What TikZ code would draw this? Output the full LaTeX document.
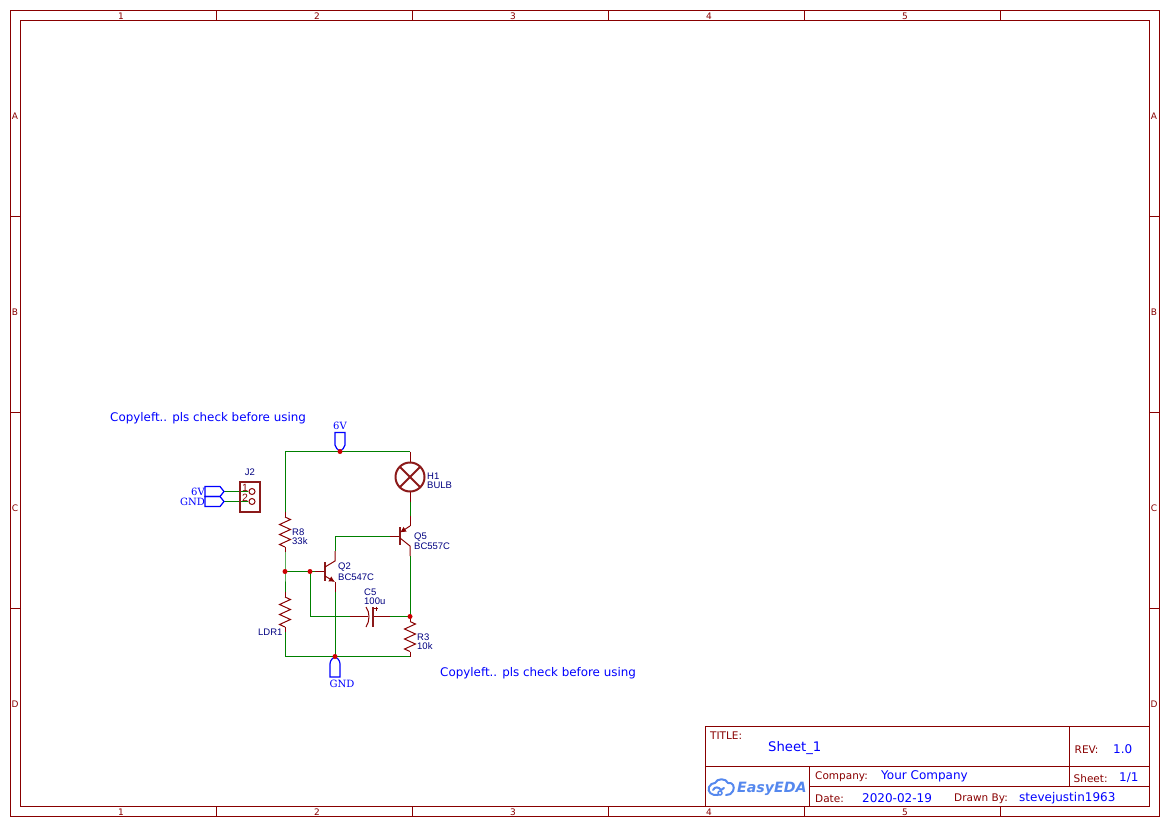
\documentclass[tikz,border=0pt]{standalone}
\usepackage{fontspec}
\setmainfont{DejaVu Sans}
\newfontfamily\netfont{DejaVu Serif}
\newfontfamily\partfont{Liberation Sans}
\usetikzlibrary{arrows.meta}
\definecolor{frameC}{HTML}{880000}
\definecolor{leadC}{HTML}{880000}
\definecolor{symC}{HTML}{8B1A1A}
\definecolor{wireC}{HTML}{008000}
\definecolor{partC}{HTML}{000080}
\definecolor{blueC}{HTML}{0000FF}
\definecolor{junC}{HTML}{CC0000}
\definecolor{logoC}{HTML}{5588EE}
\newcommand{\zigres}[2]{\draw[lead] (#1,#2) -- ++(5.5,2.5) -- ++(-11,5) -- ++(11,5) -- ++(-11,5) -- ++(11,5) -- ++(-11,5) -- ++(5.5,2.5);}
\tikzset{
  frameL/.style={draw=frameC,line width=1pt},
  wire/.style={draw=wireC,line width=1pt},
  lead/.style={draw=leadC,line width=1pt},
  sym/.style={draw=symC,line width=2pt},
  flag/.style={draw=blueC,line width=1.2pt},
  jun/.style={fill=junC,draw=none,circle,minimum size=5pt,inner sep=0pt},
  frameT/.style={text=frameC,inner sep=0pt,font=\fontsize{9}{11}\selectfont},
  titleT/.style={text=frameC,inner sep=0pt,anchor=west,font=\fontsize{10.5}{12}\selectfont},
  valT/.style={text=blueC,inner sep=0pt,anchor=west,font=\fontsize{12}{14}\selectfont},
  noteT/.style={text=blueC,inner sep=0pt,anchor=west,font=\fontsize{11.9}{14}\selectfont},
  netT/.style={text=blueC,inner sep=0pt,font=\netfont\fontsize{10}{12}\selectfont},
  partT/.style={text=partC,inner sep=0pt,font=\partfont\fontsize{9.5}{11}\selectfont},
  partL/.style={partT,anchor=west},
}
\begin{document}
\begin{tikzpicture}[x=1pt,y=-1pt]
\useasboundingbox (0,0) rectangle (1169,827);
% sheet frame
\draw[frameL] (10,10.5) rectangle (1159,816.5);
\draw[frameL] (20,20.5) rectangle (1149,806.5);
\foreach \x in {216,412,608,804,1000} {
  \draw[frameL] (\x,10.5) -- (\x,20.5);
  \draw[frameL] (\x,806.5) -- (\x,816.5);
}
\foreach \y in {216,412,608} {
  \draw[frameL] (10,\y) -- (20,\y);
  \draw[frameL] (1149,\y) -- (1159,\y);
}
\foreach \n/\x in {1/121,2/317,3/513,4/709,5/905} {
  \node[frameT] (top\n) at (\x,16) {\n};
  \node[frameT] (bot\n) at (\x,812) {\n};
}
\foreach \n/\y in {A/116,B/312,C/508,D/704} {
  \node[frameT] (left\n) at (15,\y) {\n};
  \node[frameT] (right\n) at (1154,\y) {\n};
}
% title block
\draw[frameL] (705,726.5) rectangle (1149,806.5);
\draw[frameL] (705,766) -- (1149,766);
\draw[frameL] (809,786) -- (1149,786);
\draw[frameL] (809,766) -- (809,806.5);
\draw[frameL] (1069.5,726.5) -- (1069.5,786);
\node[titleT] (ttitle) at (710,736) {TITLE:};
\node[valT,font=\fontsize{13.2}{15}\selectfont] (tsheet) at (768,748.5) {Sheet\_1};
\node[titleT] (trev) at (1074.5,749.5) {REV:};
\node[valT] (trevv) at (1113,749.5) {1.0};
\node[titleT] (tcomp) at (815,776.5) {Company:};
\node[valT] (tcompv) at (881,776.5) {Your Company};
\node[titleT] (tsh) at (1073.5,778.5) {Sheet:};
\node[valT] (tshv) at (1119,778) {1/1};
\node[titleT] (tdate) at (815,798.5) {Date:};
\node[valT] (tdatev) at (862,798.5) {2020-02-19};
\node[titleT] (tdrawn) at (954,798.5) {Drawn By:};
\node[valT] (tdrawnv) at (1019,798.5) {stevejustin1963};
% logo
\draw[draw=logoC,line width=2pt,line cap=round,line join=round]
  (718,795) .. controls (712,796) and (707,792) .. (709,787)
  .. controls (710,784) and (713,783) .. (715,783)
  .. controls (717,778) and (726,778) .. (728,783)
  .. controls (733,782) and (735,787) .. (733,791)
  .. controls (732,794) and (729,795) .. (726,795);
\draw[draw=logoC,line width=2pt,line cap=round] (713,790) .. controls (715,786) and (719,787) .. (721,790) -- (724,788);
\draw[draw=logoC,line width=1.5pt] (720,793) circle (2pt);
\node[inner sep=0pt,anchor=west,text=logoC,font=\fontsize{14.2}{16}\selectfont\bfseries\itshape] (logotext) at (737,789) {EasyEDA};
% notes
\node[noteT] (note1) at (110,418) {Copyleft.. pls check before using};
\node[noteT] (note2) at (440,673) {Copyleft.. pls check before using};
% coordinates
\coordinate (nTopL) at (285,451.5);
\coordinate (nTopR) at (410,451.5);
\coordinate (nVcc) at (340,451.5);
\coordinate (nMid) at (285,571.5);
\coordinate (nBase) at (310,571.5);
\coordinate (nBotL) at (285,656.5);
\coordinate (nBotR) at (410,656.5);
\coordinate (nGnd) at (335,656.5);
\coordinate (nCap) at (410,616.5);
\coordinate (nCapL) at (310,616.5);
\coordinate (nQ5b) at (335,536.5);
% wires
\draw[wire] (285,512) -- (nTopL) -- (nTopR);
\draw[wire] (285,552) -- (nMid) -- (285,592);
\draw[wire] (nMid) -- (315,571.5);
\draw[wire] (nBase) -- (nCapL) -- (350,616.5);
\draw[wire] (285,632) -- (nBotL) -- (nBotR);
\draw[wire] (335,592) -- (nGnd);
\draw[wire] (335,551) -- (nQ5b) -- (390,536.5);
\draw[wire] (410,502) -- (410,516);
\draw[wire] (410,556) -- (nCap);
\draw[wire] (390,616.5) -- (nCap);
% leads
\draw[lead] (285,512) -- (285,517);
\draw[lead] (285,547) -- (285,552);
\draw[lead] (285,592) -- (285,597);
\draw[lead] (285,627) -- (285,632);
\zigres{285}{517}
\zigres{285}{597}
\zigres{410}{621.5}
\draw[lead] (nCap) -- (410,621.5);
\draw[lead] (410,651.5) -- (nBotR);
% bulb
\draw[lead] (nTopR) -- (410,462);
\draw[lead] (410,492) -- (410,502);
\draw[sym] (410,477) circle (14.5pt);
\draw[sym] (399.7,466.7) -- (420.3,487.3);
\draw[sym] (399.7,487.3) -- (420.3,466.7);
% Q5
\draw[lead] (390,536.5) -- (400,536.5);
\draw[sym] (400,527) -- (400,545);
\draw[lead] (410,516) -- (410,526);
\draw[lead] (400,538) -- (410,546) -- (410,556);
\draw[lead,-{Latex[length=6pt,width=6pt]}] (410,526) -- (400,532.5);
% Q2
\draw[lead] (315,571.5) -- (325,571.5);
\draw[sym] (325,562) -- (325,581);
\draw[lead] (335,551) -- (335,561) -- (325,567);
\draw[lead,-{Latex[length=6pt,width=6pt]}] (325,576) -- (335,582);
\draw[lead] (335,582) -- (335,592);
% C5
\draw[lead] (350,616.5) -- (368,616.5);
\draw[lead] (366,607) .. controls (370,612) and (370,621) .. (366,627);
\draw[lead] (373,616.5) -- (390,616.5);
\draw[sym,line width=1.5pt] (373,607) -- (373,627);
\draw[lead,line width=.7pt] (374,608.5) -- (378,608.5);
\draw[lead,line width=.7pt] (376,606.5) -- (376,610.5);
% J2
\draw[wire] (224,491.5) -- (248,491.5);
\draw[wire] (224,501.5) -- (248,501.5);
\draw[sym] (240,481.5) rectangle (260,511.5);
\draw[lead] (252,491.5) circle (3pt);
\draw[lead] (252,501.5) circle (3pt);
\node[partT,text=leadC,font=\partfont\fontsize{10.5}{12}\selectfont] (pin1) at (245,487.5) {1};
\node[partT,text=leadC,font=\partfont\fontsize{10.5}{12}\selectfont] (pin2) at (245,497.5) {2};
% flags
\draw[flag] (205,486.5) -- (220,486.5) -- (224,491.5) -- (220,496.5) -- (205,496.5) -- cycle;
\draw[flag] (205,496.5) -- (220,496.5) -- (224,501.5) -- (220,506.5) -- (205,506.5) -- cycle;
\draw[flag] (335,432.5) -- (345,432.5) -- (345,445) .. controls (345,448) and (342,449) .. (nVcc) .. controls (338,449) and (335,448) .. (335,445) -- cycle;
\draw[flag] (330,677) -- (340,677) -- (340,664) .. controls (340,660) and (337,658) .. (nGnd) .. controls (333,658) and (330,660) .. (330,664) -- cycle;
% junctions
\node[jun] (jVcc) at (nVcc) {};
\node[jun] (jMid) at (nMid) {};
\node[jun] (jBase) at (nBase) {};
\node[jun] (jCap) at (nCap) {};
\node[jun] (jGnd) at (nGnd) {};
% net labels
\node[netT] (l6v) at (340,425.5) {6V};
\node[netT] (lgnd) at (342,683.5) {GND};
\node[netT,anchor=east] (lj6v) at (205,491.5) {6V};
\node[netT,anchor=east] (ljgnd) at (205,501.5) {GND};
% part labels
\node[partT] (lj2) at (250,472) {J2};
\node[partL] (lr8) at (292,532.5) {R8};
\node[partL] (lr8v) at (292,541) {33k};
\node[partL] (lq2) at (338,567.5) {Q2};
\node[partL] (lq2v) at (338,577) {BC547C};
\node[partL] (lq5) at (414,537.5) {Q5};
\node[partL] (lq5v) at (414,546.5) {BC557C};
\node[partL] (lh1) at (427,476.5) {H1};
\node[partL] (lh1v) at (427,485.5) {BULB};
\node[partL] (lldr) at (258,632) {LDR1};
\node[partL] (lc5) at (364,592) {C5};
\node[partL] (lc5v) at (364,601) {100u};
\node[partL] (lr3) at (417,637.5) {R3};
\node[partL] (lr3v) at (417,646.5) {10k};
\end{tikzpicture}
\end{document}
